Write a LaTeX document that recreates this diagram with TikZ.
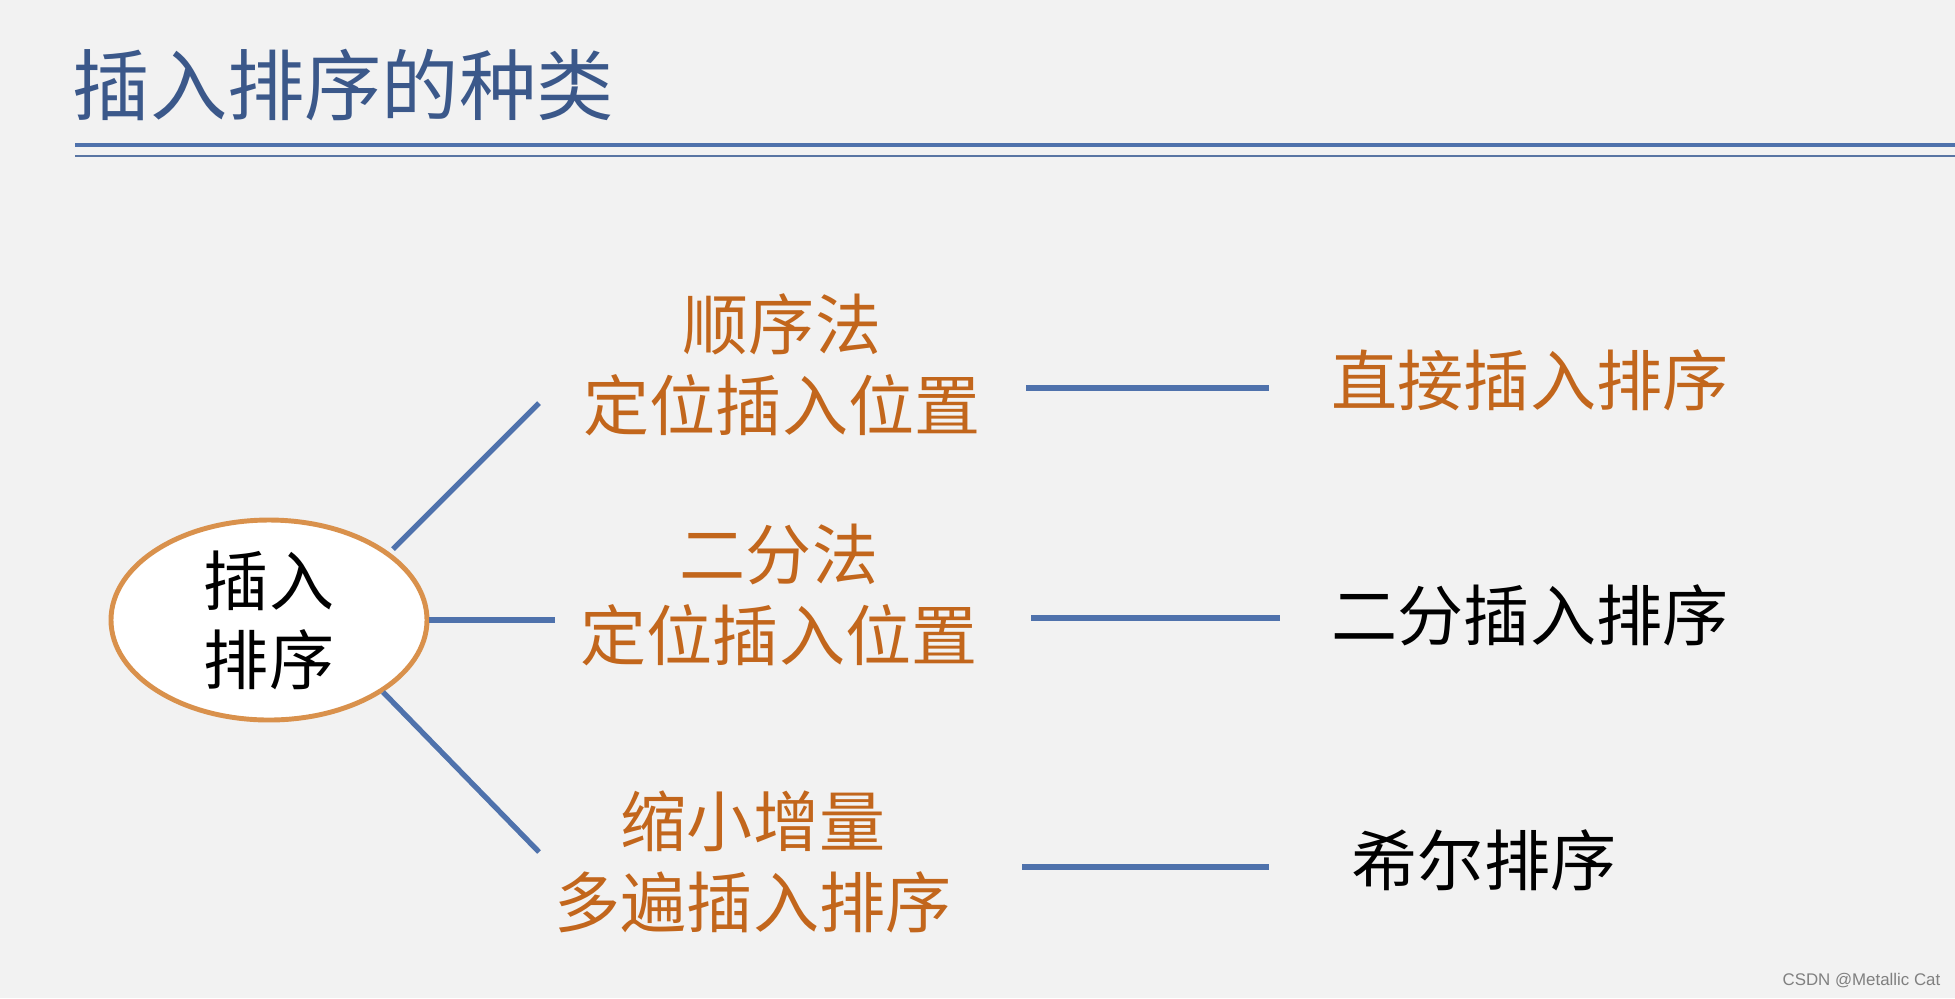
\documentclass[tikz,border=0pt]{standalone}
\usepackage{fontspec}
\setmainfont{Noto Sans CJK SC}
\newfontfamily\markfont{Liberation Sans}
\usetikzlibrary{shapes.geometric}
\definecolor{bgray}{HTML}{F2F2F2}
\definecolor{titleblue}{HTML}{3B588A}
\definecolor{lineblue}{HTML}{4F72AC}
\definecolor{txtorange}{HTML}{C2661C}
\definecolor{ringorange}{HTML}{D9914C}
\begin{document}
\begin{tikzpicture}
\tikzset{label txt/.style={align=center, inner sep=0pt, font=\fontsize{18.8}{23}\selectfont},
  link/.style={lineblue, line width=1.5pt}}
\useasboundingbox[fill=bgray] (0,0) rectangle (19.55,-9.98);
% title
\node[anchor=west, inner sep=0pt, text=titleblue, font=\fontsize{22}{26}\selectfont] (title) at (0.72,-0.85) {插入排序的种类};
\coordinate (r1a) at (0.75,-1.45); \coordinate (r1b) at (19.55,-1.45);
\coordinate (r2a) at (0.75,-1.56); \coordinate (r2b) at (19.55,-1.56);
\draw[lineblue, line width=1.3pt] (r1a) -- (r1b); \draw[lineblue!80!gray, line width=0.7pt] (r2a) -- (r2b);
% root
\node[ellipse, draw=ringorange, line width=1.4pt, fill=white, minimum width=3.16cm, minimum height=2.0cm, inner sep=0pt, align=center, font=\fontsize{18.5}{22.5}\selectfont] (root) at (2.69,-6.20) {插入\\排序};
% middle column
\node[label txt, text=txtorange] (m1) at (7.82,-3.65) {顺序法\\定位插入位置};
\node[label txt, text=txtorange] (m2) at (7.79,-5.95) {二分法\\定位插入位置};
\node[label txt, text=txtorange] (m3) at (7.53,-8.62) {缩小增量\\多遍插入排序};
% right column
\node[label txt, text=txtorange] (s1) at (15.30,-3.80) {直接插入排序};
\node[label txt] (s2) at (15.30,-6.15) {二分插入排序};
\node[label txt] (s3) at (14.84,-8.60) {希尔排序};
% branch ends
\coordinate (b1s) at (3.93,-5.49); \coordinate (b1e) at (5.39,-4.03);
\coordinate (b2s) at (4.29,-6.20); \coordinate (b2e) at (5.55,-6.20);
\coordinate (b3s) at (3.83,-6.92); \coordinate (b3e) at (5.39,-8.52);
\coordinate (c1s) at (10.26,-3.88); \coordinate (c1e) at (12.69,-3.88);
\coordinate (c2s) at (10.31,-6.18); \coordinate (c2e) at (12.80,-6.18);
\coordinate (c3s) at (10.22,-8.67); \coordinate (c3e) at (12.69,-8.67);
\draw[link] (b1s) -- (b1e); \draw[link] (b2s) -- (b2e); \draw[link] (b3s) -- (b3e);
\draw[link] (c1s) -- (c1e); \draw[link] (c2s) -- (c2e); \draw[link] (c3s) -- (c3e);
% watermark
\node[anchor=east, inner sep=0pt, text=gray, font=\markfont\fontsize{4.8}{5}\selectfont] (mark) at (19.41,-9.81) {CSDN @Metallic Cat};
\end{tikzpicture}
\end{document}
